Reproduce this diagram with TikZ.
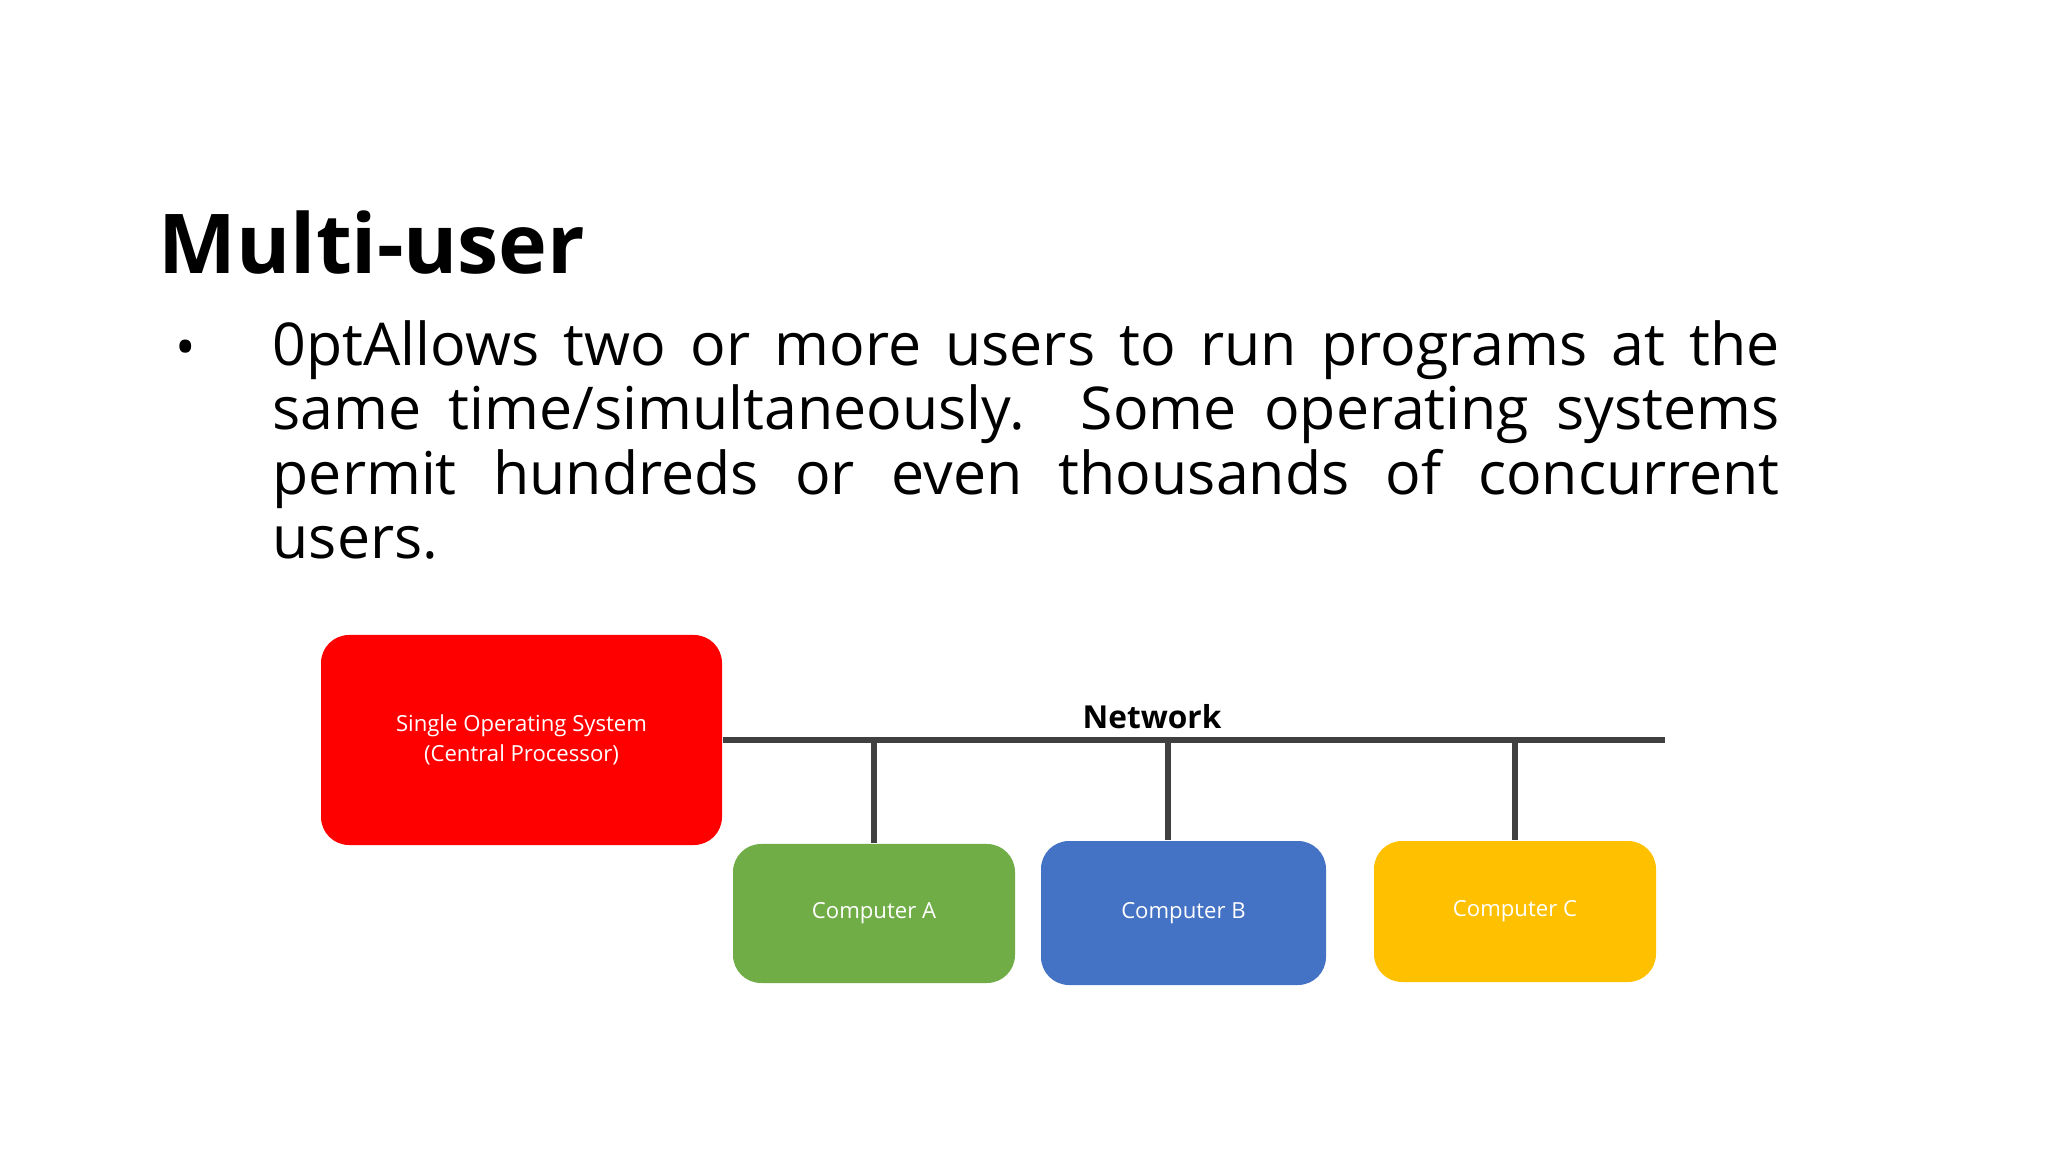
\documentclass[tikz,border=0pt]{standalone}
\usepackage{fontspec}
\setmainfont{Open Sans}
\begin{document}
\begin{tikzpicture}[x=1cm,y=-1cm,
  box/.style={rounded corners=0.28cm, text=white, align=center, font=\fontsize{6.3}{8.5}\selectfont, inner sep=0pt},
  link/.style={draw=black!75, line width=1.6pt}]
\useasboundingbox (0,0) rectangle (20.48,11.52);
\node[anchor=base west, font=\fontsize{23.5}{28}\bfseries\selectfont, inner sep=0pt] (title) at (1.58,2.74) {Multi-user};
\node[anchor=base, font=\fontsize{15.5}{18}\selectfont] (bul) at (1.86,3.67) {•};
\begin{scope}
\clip (2.5,3.0) rectangle (18.5,5.62);
\node[anchor=north west, text width=15.07cm, align=justify, inner sep=0pt,
  font=\fontsize{16.8}{18.3}\selectfont\hyphenpenalty=10000\exhyphenpenalty=10000] (txt) at (2.72,3.20)
  {Allows two or more users to run programs at the same time/simultaneously. Some operating systems permit hundreds or even thousands of concurrent users.};
\end{scope}
\definecolor{cred}{HTML}{FF0000}
\definecolor{cgreen}{HTML}{70AD47}
\definecolor{cblue}{HTML}{4472C4}
\definecolor{cyel}{HTML}{FFC000}
\node[box, fill=cred, minimum width=4.01cm, minimum height=2.10cm] (os) at (5.215,7.40) {Single Operating System\\(Central Processor)};
\node[box, fill=cgreen, minimum width=2.82cm, minimum height=1.39cm] (ca) at (8.74,9.135) {Computer A};
\node[box, fill=cblue, minimum width=2.85cm, minimum height=1.44cm] (cb) at (11.835,9.13) {Computer B};
\node[box, fill=cyel, minimum width=2.82cm, minimum height=1.41cm] (cc) at (15.15,9.115) {Computer C};
\coordinate (nend) at (16.65,7.40);
\coordinate (ja) at (8.74,7.40);
\coordinate (jb) at (11.68,7.40);
\coordinate (jc) at (15.15,7.40);
\draw[link] (os.east) -- (nend);
\draw[link] (ja) -- (ca.north);
\draw[link] (jb) -- (jb |- cb.north);
\draw[link] (jc) -- (cc.north);
\node[font=\fontsize{9}{11}\bfseries\selectfont, anchor=base] (net) at (11.52,7.28) {Network};
\end{tikzpicture}
\end{document}
